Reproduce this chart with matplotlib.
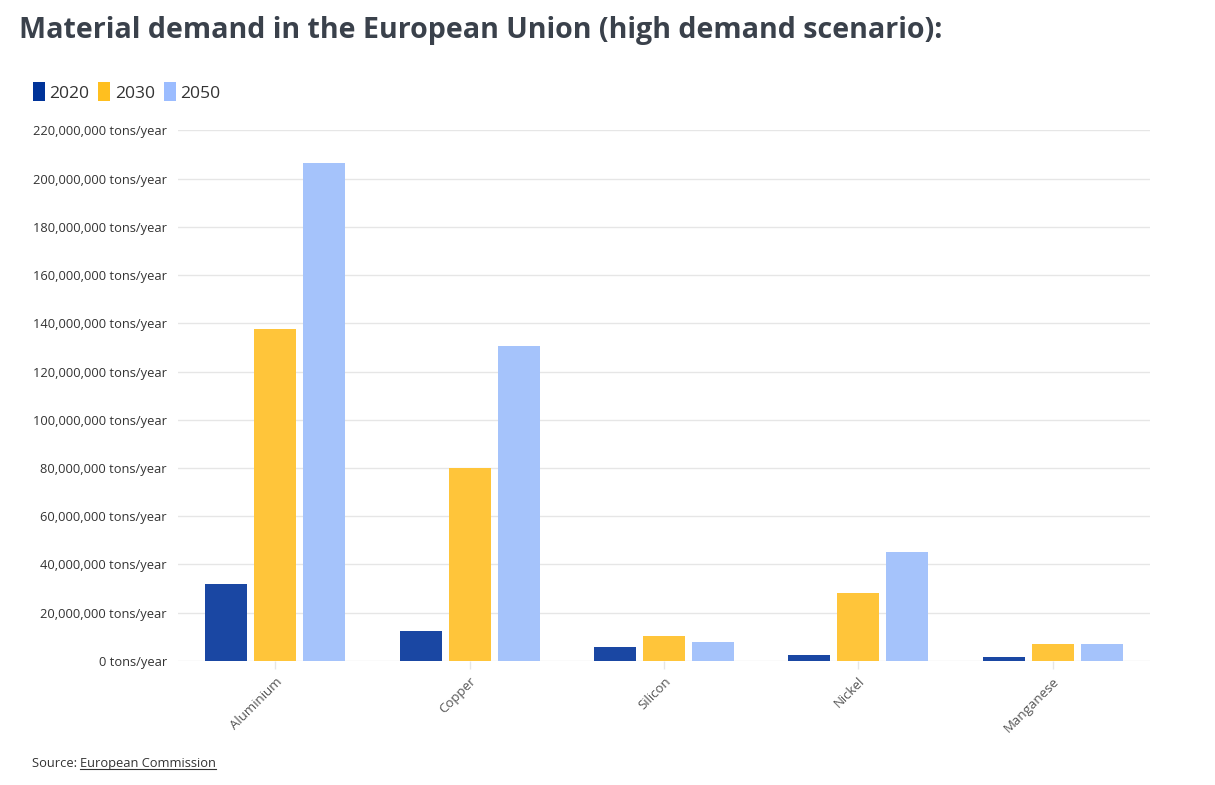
import matplotlib.pyplot as plt
import numpy as np
from matplotlib.patches import Patch
from matplotlib.ticker import FuncFormatter

plt.rcParams["font.family"] = ["Open Sans", "DejaVu Sans"]

# Data (tons/year)
materials = ["Aluminium", "Copper", "Silicon", "Nickel", "Manganese"]
years = ["2020", "2030", "2050"]
demand_2020 = [32_000_000, 12_500_000, 5_800_000, 2_500_000, 1_500_000]
demand_2030 = [137_500_000, 80_000_000, 10_400_000, 28_200_000, 7_000_000]
demand_2050 = [206_300_000, 130_500_000, 7_900_000, 45_200_000, 7_000_000]

bar_colors = ["#1a47a3", "#ffc53a", "#a5c3fb"]
legend_colors = ["#003399", "#ffbf1f", "#9bbcff"]

fig = plt.figure(figsize=(12.15, 7.85), dpi=100)
ax = fig.add_axes([0.1465, 0.158, 0.8, 0.676])

x = np.arange(len(materials))
width = 0.216
step = 0.252
for i, vals in enumerate([demand_2020, demand_2030, demand_2050]):
    ax.bar(x + (i - 1) * step, vals, width, color=bar_colors[i], zorder=3)

ax.set_xlim(-0.5, len(materials) - 0.5)
ax.set_ylim(0, 220_000_000)
ax.set_yticks(np.arange(0, 220_000_001, 20_000_000))
ax.yaxis.set_major_formatter(FuncFormatter(lambda v, p: f"{int(v):,} tons/year"))
ax.grid(axis="y", color="#e6e6e6", linewidth=1, zorder=0)
for s in ["top", "right", "left", "bottom"]:
    ax.spines[s].set_visible(False)
ax.tick_params(axis="y", length=0, pad=8, labelsize=9.3, labelcolor="#333333")
ax.tick_params(axis="x", length=6, width=1, color="#e6e6e6", pad=4,
               labelsize=9.5, labelcolor="#555555")
ax.set_xticks(x)
ax.set_xticklabels(materials, rotation=45, ha="right", rotation_mode="anchor")

fig.text(0.016, 0.961, "Material demand in the European Union (high demand scenario):",
         fontsize=20.6, fontweight="bold", color="#3a414b", va="center")

handles = [Patch(facecolor=c, edgecolor="none") for c in legend_colors]
fig.legend(handles, years, loc="center left", bbox_to_anchor=(0.014, 0.883),
           ncol=3, frameon=False, fontsize=12.6, handlelength=0.7, handleheight=1.3,
           handletextpad=0.25, columnspacing=0.5, labelcolor="#333333")

src = fig.text(0.026, 0.027, "Source: ", fontsize=9.3, color="#333333", va="center")
fig.canvas.draw()
bb = src.get_window_extent()
x1 = bb.x1 / fig.bbox.width
link = fig.text(x1, 0.027, "European Commission", fontsize=9.3, color="#333333", va="center")
fig.canvas.draw()
lb = link.get_window_extent()
yline = (lb.y0 + 1) / fig.bbox.height
fig.add_artist(plt.Line2D([lb.x0 / fig.bbox.width, lb.x1 / fig.bbox.width], [yline, yline],
                          color="#333333", linewidth=0.8))

fig.savefig("out.png", dpi=100)
